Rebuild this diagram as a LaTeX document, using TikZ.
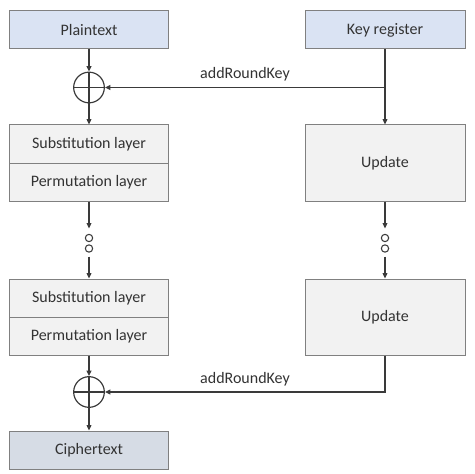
\documentclass[tikz,border=0pt]{standalone}
\usepackage{fontspec}
\setmainfont{Carlito}
\usepackage{xcolor}
\usetikzlibrary{
    positioning,
    arrows.meta,
    calc
}
\definecolor{txtgray}{HTML}{333333}
\definecolor{linegray}{HTML}{3A3A3A}
\definecolor{bordergray}{HTML}{808080}
\definecolor{layerfill}{HTML}{F2F2F2}
\definecolor{inputfill}{HTML}{DAE3F3}
\definecolor{outputfill}{HTML}{D6DCE5}

\begin{document}
\begin{tikzpicture}[
    x=0.75pt, y=-0.75pt,
    box/.style={rectangle, draw=bordergray, line width=0.75pt, fill=layerfill, minimum width=119.25pt, minimum height=28.5pt, inner sep=0pt, font=\fontsize{12}{14}\selectfont, text=txtgray, align=center},
    inbox/.style={box, fill=inputfill},
    outbox/.style={box, fill=outputfill},
    layer/.style={box, minimum height=28.5pt},
    updbox/.style={box, minimum width=120pt, minimum height=57pt},
    xorop/.style={circle, draw=linegray, line width=0.9pt, minimum size=23pt, inner sep=0pt,
        path picture={\draw[linegray, line width=0.9pt] (path picture bounding box.north) -- (path picture bounding box.south)
            (path picture bounding box.west) -- (path picture bounding box.east);}},
    rounddot/.style={circle, draw=linegray, line width=0.8pt, fill=white, minimum size=5.5pt, inner sep=0pt},
    arrow/.style={-{Triangle[length=4pt, width=3.5pt]}, line width=0.9pt, draw=linegray},
    keylabel/.style={font=\fontsize{12}{14}\selectfont, text=txtgray}
]
    \useasboundingbox (0, 0) rectangle (474, 474);

    % Inputs
    \node[inbox] (plain) at (89, 30) {Plaintext};
    \node[inbox, minimum width=120pt] (key) at (385, 30) {Key register};

    % First round
    \node[xorop] (xor1) at (89, 87.5) {};
    \node[layer] (subst1) at (89, 144) {Substitution layer};
    \node[layer] (perm1) at (89, 182) {Permutation layer};
    \node[updbox] (upd1) at (385, 163) {Update};

    \draw[arrow] (plain) -- (xor1);
    \draw[arrow] (xor1) -- (subst1);
    \draw[arrow] (key) -- (upd1);
    \draw[arrow] (key.south) |- (xor1.east);
    \node[keylabel] (ark1) at (245, 74) {addRoundKey};

    % Rounds in between
    \node[rounddot] (dotA1) at (89, 238) {};
    \node[rounddot] (dotA2) at (89, 248.5) {};
    \node[rounddot] (dotB1) at (385, 238) {};
    \node[rounddot] (dotB2) at (385, 248.5) {};

    % Last round
    \node[layer] (subst2) at (89, 298) {Substitution layer};
    \node[layer] (perm2) at (89, 336) {Permutation layer};
    \node[updbox] (upd2) at (385, 317) {Update};

    \draw[arrow, shorten >=4pt] (perm1) -- (dotA1);
    \draw[arrow] ([yshift=-3pt]dotA2.south) -- (subst2);
    \draw[arrow, shorten >=4pt] (upd1) -- (dotB1);
    \draw[arrow] ([yshift=-3pt]dotB2.south) -- (upd2);

    % Output
    \node[xorop] (xor2) at (89, 392) {};
    \node[outbox] (cipher) at (89, 450) {Ciphertext};

    \draw[arrow] (perm2) -- (xor2);
    \draw[arrow] (xor2) -- (cipher);
    \draw[arrow] (upd2.south) |- (xor2.east);
    \node[keylabel] (ark2) at (245, 379) {addRoundKey};

\end{tikzpicture}
\end{document}
